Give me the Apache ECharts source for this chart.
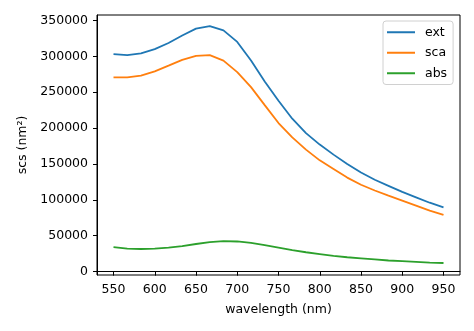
<!DOCTYPE html>
<html>
<head>
<meta charset="utf-8">
<script src="https://cdn.jsdelivr.net/npm/echarts@6/dist/echarts.min.js"></script>
<style>
  html, body { margin: 0; padding: 0; background: #fff; }
  #chart { width: 474px; height: 331px; }
</style>
</head>
<body>
<div id="chart"></div>
<script>
// wavelength samples (nm)
const wavelengths = [550, 566.7, 583.3, 600, 616.7, 633.3, 650, 666.7, 683.3, 700, 716.7, 733.3, 750,
    766.7, 783.3, 800, 816.7, 833.3, 850, 866.7, 883.3, 900, 916.7, 933.3, 950];

// cross sections (nm^2)
const extValues = [303000, 301500, 304000, 310000, 318500, 329000, 338500, 342000, 336000, 320000, 294000, 265000, 238000,
    213000, 193000, 177000, 163000, 150000, 138000, 128000, 119500, 111000, 103500, 96000, 89500];
const scaValues = [270500, 270500, 273000, 279000, 287000, 295000, 300500, 301500, 294000, 278000, 257000, 232000, 207000,
    187000, 170000, 155000, 143000, 131000, 121000, 113000, 106000, 99000, 92000, 85000, 79000];
const absValues = [34000, 32000, 31500, 32000, 33500, 35500, 38500, 41000, 42500, 42000, 40000, 37000, 33500,
    30000, 27000, 24500, 22000, 20000, 18500, 17000, 15500, 14500, 13500, 12500, 12000];

const seriesNames = ['ext', 'sca', 'abs'];
const xTicks = [550, 600, 650, 700, 750, 800, 850, 900, 950];
const yTicks = [0, 50000, 100000, 150000, 200000, 250000, 300000, 350000];

const chart = echarts.init(document.getElementById('chart'));

// пары (x, y) для линий
const pairs = values => wavelengths.map((w, i) => [w, values[i]]);

const font = 'DejaVu Sans';
const axisCommon = {
    axisLine: { show: true, lineStyle: { color: '#000', width: 1 } },
    axisTick: { show: true, length: 4, lineStyle: { color: '#000', width: 1 } },
    splitLine: { show: false },
    nameLocation: 'middle',
    nameTextStyle: { color: '#000', fontFamily: font, fontSize: 12.5 }
};

const option = {
    animation: false,
    backgroundColor: '#fff',
    color: ['#1f77b4', '#ff7f0e', '#2ca02c'],
    grid: {
        left: 97, right: 14, top: 15, bottom: 56,
        show: true, borderColor: '#000', borderWidth: 1
    },
    legend: {
        data: seriesNames,
        orient: 'vertical',
        left: 383, top: 21,
        padding: [4, 6, 4, 4],
        icon: 'rect',
        itemWidth: 28, itemHeight: 2, itemGap: 6,
        borderColor: '#d0d0d0', borderWidth: 1, borderRadius: 3,
        backgroundColor: 'rgba(255,255,255,0.8)',
        textStyle: { color: '#000', fontFamily: font, fontSize: 12.5, lineHeight: 14.5, padding: [0, 0, 0, 5] }
    },
    xAxis: Object.assign({}, axisCommon, {
        type: 'value',
        min: 530, max: 970,
        name: 'wavelength (nm)',
        nameGap: 28,
        axisTick: Object.assign({}, axisCommon.axisTick, { customValues: xTicks }),
        axisLabel: { customValues: xTicks, color: '#000', fontFamily: font, fontSize: 12.5, margin: 8 }
    }),
    yAxis: Object.assign({}, axisCommon, {
        type: 'value',
        min: -4700, max: 357500,
        name: 'scs (nm²)',
        nameGap: 57,
        axisTick: Object.assign({}, axisCommon.axisTick, { customValues: yTicks }),
        axisLabel: {
            customValues: yTicks, color: '#000', fontFamily: font, fontSize: 12.5, margin: 9,
            formatter: v => String(v)
        }
    }),
    series: [extValues, scaValues, absValues].map((vals, i) => ({
        name: seriesNames[i],
        type: 'line',
        data: pairs(vals),
        symbol: 'none',
        smooth: false,
        lineStyle: { width: 1.8 }
    }))
};

chart.setOption(option);
</script>
</body>
</html>
